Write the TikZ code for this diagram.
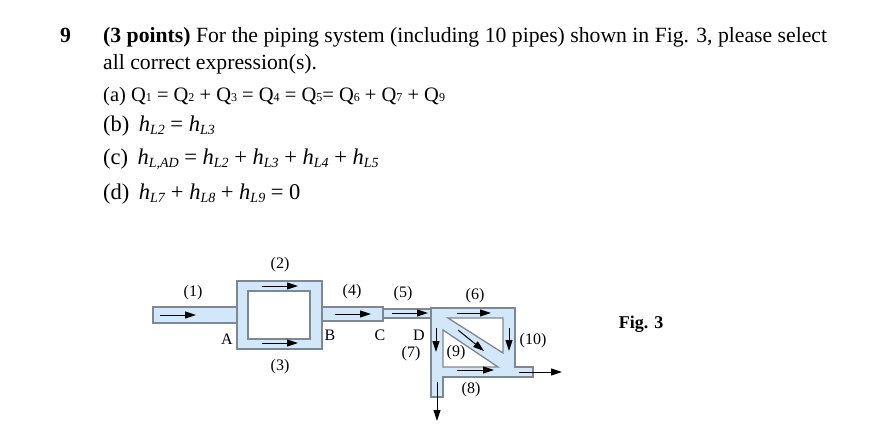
\documentclass[tikz,border=0pt]{standalone}
\usepackage{fontspec}
\setmainfont{Liberation Serif}
\usetikzlibrary{arrows.meta}
\newcommand{\hL}[1]{\textit{h}\raisebox{-0.35ex}{\fontsize{14}{14}\selectfont\textit{#1}}}
\newcommand{\Qs}[1]{Q\raisebox{-0.1ex}{\fontsize{12}{12}\selectfont #1}}
\begin{document}
\begin{tikzpicture}[x=1pt,y=-1pt,
  txt/.style={anchor=base west,inner sep=0pt,font=\fontsize{21.7}{24}\selectfont},
  lbl/.style={inner sep=0pt,font=\fontsize{16}{18}\selectfont},
  pipe/.style={fill=pipeblue,draw=pipegray,line width=1.3pt},
  hole/.style={fill=white,draw=pipegray,line width=1.3pt},
  flow/.style={line width=1pt,-{Triangle[length=11pt,width=7pt]}}]
\definecolor{pipeblue}{HTML}{D2E8F8}
\definecolor{pipegray}{HTML}{7D8894}
\useasboundingbox (0,0) rectangle (896,440);
\node[txt,font=\fontsize{21.7}{24}\selectfont\bfseries] (n9) at (60,42) {9};
\node[txt] (t1) at (103,42) {\textbf{(3 points)} For the piping system (including 10 pipes) shown in Fig. 3, please select};
\node[txt] (t2) at (103,69) {all correct expression(s).};
\node[txt,font=\fontsize{20.5}{24}\selectfont] (ta) at (103,101) {(a) \Qs1 = \Qs2 + \Qs3 = \Qs4 = \Qs5= \Qs6 + \Qs7 + \Qs9};
\node[txt,font=\fontsize{22.5}{24}\selectfont] (tb) at (103,131) {(b)\, \hL{L2} = \hL{L3}};
\node[txt,font=\fontsize{22.5}{24}\selectfont] (tc) at (103,164) {(c)\, \hL{L,AD} = \hL{L2} + \hL{L3} + \hL{L4} + \hL{L5}};
\node[txt,font=\fontsize{22.5}{24}\selectfont] (td) at (103,199) {(d)\, \hL{L7} + \hL{L8} + \hL{L9} = 0};
% pipes
\draw[pipe] (153,307) rectangle (237,323);
\draw[pipe] (237,281) rectangle (322,349);
\draw[hole] (248,291) rectangle (310,339);
\draw[pipe] (322,307) rectangle (383,321);
\draw[pipe] (383,309) rectangle (431,318);
\draw[pipe] (431,308) -- (515,308) -- (515,367) -- (533,367) -- (533,377) -- (443,377) -- (443,397) -- (431,397) -- cycle;
\draw[hole] (448,318) -- (503,318) -- (503,353) -- cycle;
\draw[hole] (443,330) -- (443,367) -- (498,367) -- cycle;
% arrows
\coordinate (a1s) at (160,315); \coordinate (a1e) at (196,315);
\draw[flow] (a1s) -- (a1e);
\coordinate (a2s) at (262,286); \coordinate (a2e) at (298,286);
\draw[flow] (a2s) -- (a2e);
\coordinate (a3s) at (262,343); \coordinate (a3e) at (298,343);
\draw[flow] (a3s) -- (a3e);
\coordinate (a4s) at (335,314); \coordinate (a4e) at (371,314);
\draw[flow] (a4s) -- (a4e);
\coordinate (a5s) at (392,313); \coordinate (a5e) at (428,313);
\draw[flow] (a5s) -- (a5e);
\coordinate (a6s) at (457,313); \coordinate (a6e) at (491,313);
\draw[flow] (a6s) -- (a6e);
\coordinate (a10s) at (509,328); \coordinate (a10e) at (509,351);
\draw[flow] (a10s) -- (a10e);
\coordinate (a7s) at (436,328); \coordinate (a7e) at (436,352);
\draw[flow] (a7s) -- (a7e);
\coordinate (a8s) at (457,370); \coordinate (a8e) at (494,370);
\draw[flow] (a8s) -- (a8e);
\coordinate (a9s) at (458,330); \coordinate (a9e) at (484,351);
\draw[flow] (a9s) -- (a9e);
\coordinate (aos) at (519,372); \coordinate (aoe) at (562,372);
\draw[flow] (aos) -- (aoe);
\coordinate (ads) at (437,382); \coordinate (ade) at (437,421);
\draw[flow] (ads) -- (ade);
% labels
\node[lbl] (l1) at (193,293) {(1)};
\node[lbl] (l2) at (280,265) {(2)};
\node[lbl] (l3) at (280,367) {(3)};
\node[lbl] (l4) at (352,292) {(4)};
\node[lbl] (l5) at (403,294) {(5)};
\node[lbl] (l6) at (475,296) {(6)};
\node[lbl] (l7) at (411,354) {(7)};
\node[lbl] (l8) at (471,390) {(8)};
\node[lbl] (l9) at (456,353) {(9)};
\node[lbl] (l10) at (533,341) {(10)};
\node[lbl] (lA) at (227,339) {A};
\node[lbl] (lB) at (330,335) {B};
\node[lbl] (lC) at (380,335) {C};
\node[lbl] (lD) at (419,335) {D};
\node[lbl,font=\fontsize{18}{20}\selectfont\bfseries] (fig) at (641,324) {Fig. 3};
\end{tikzpicture}
\end{document}
